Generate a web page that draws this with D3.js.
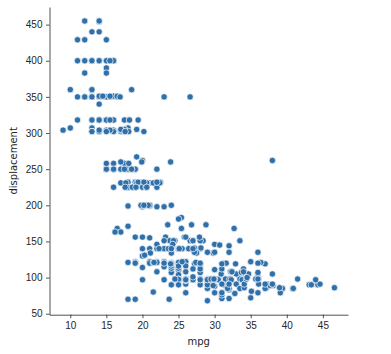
<!DOCTYPE html>
<html>
<head>
<meta charset="utf-8">
<script src="https://cdn.jsdelivr.net/npm/d3@7"></script>
<style>
  body { margin: 0; background: #fff; }
  svg { display: block; font-family: "DejaVu Sans", sans-serif; }
  .axis path, .axis line { stroke: #262626; stroke-width: 0.8; }
  .axis text { fill: #262626; font-size: 10px; }
  .label { fill: #262626; font-size: 10px; }
</style>
</head>
<body>
<script>
(function(){

//mpg of each car
var mpg = [18,15,18,16,17,15,14,14,14,15,15,14,15,14,24,22,18,21,27,26,25,24,25,26,21,10,10,11,9,27,
    28,25,25,19,16,17,19,18,14,14,14,14,12,13,13,18,22,19,18,23,28,30,30,31,35,27,26,24,25,23,
    20,21,13,14,15,14,17,11,13,12,13,19,15,13,13,14,18,22,21,26,22,28,23,28,27,13,14,13,14,15,
    12,13,13,14,13,12,13,18,16,18,18,23,26,11,12,13,12,18,20,21,22,18,19,21,26,15,16,29,24,20,
    19,15,24,20,11,20,21,19,15,31,26,32,25,16,16,18,16,13,14,14,14,29,26,26,31,32,28,24,26,24,
    26,31,19,18,15,15,16,15,16,14,17,16,15,18,21,20,13,29,23,20,23,24,25,24,18,29,19,23,23,22,
    25,33,28,25,25,26,27,17.5,16,15.5,14.5,22,22,24,22.5,29,24.5,29,33,20,18,18.5,17.5,29.5,32,28,
    26.5,20,13,19,19,16.5,16.5,13,13,13,31.5,30,36,25.5,33.5,17.5,17,15.5,15,17.5,20.5,19,18.5,16,
    15.5,15.5,16,29,24.5,26,25.5,30.5,33.5,30,30.5,22,21.5,21.5,43.1,36.1,32.8,39.4,36.1,19.9,19.4,20.2,
    19.2,20.5,20.2,25.1,20.5,19.4,20.6,20.8,18.6,18.1,19.2,17.7,18.1,17.5,30,27.5,27.2,30.9,21.1,23.2,
    23.8,23.9,20.3,17,21.6,16.2,31.5,29.5,21.5,19.8,22.3,20.2,20.6,17,17.6,16.5,18.2,16.9,15.5,19.2,
    18.5,31.9,34.1,35.7,27.4,25.4,23,27.2,23.9,34.2,34.5,31.8,37.3,28.4,28.8,26.8,33.5,41.5,38.1,32.1,
    37.2,28,26.4,24.3,19.1,34.3,29.8,31.3,37,32.2,46.6,27.9,40.8,44.3,43.4,36.4,30,44.6,40.9,33.8,
    29.8,32.7,23.7,35,23.6,32.4,27.2,26.6,25.8,23.5,30,39.1,39,35.1,32.3,37,37.7,34.1,34.7,34.4,
    29.9,33,34.5,33.7,32.4,32.9,31.6,28.1,30.7,25.4,24.2,22.4,26.6,20.2,17.6,28,27,34,31,29,
    27,24,23,36,37,31,38,36,36,36,34,38,32,38,25,38,26,22,32,36,27,27,44,32,28,31];

//engine displacement (cubic inches), same order
var displacement = [307,350,318,304,302,429,454,440,455,390,383,340,400,455,113,198,199,200,97,97,110,107,104,121,199,360,307,318,304,97,
    140,113,98,232,225,250,250,232,350,400,351,318,383,400,400,258,140,250,250,122,116,79,88,71,72,97,91,113,97.5,97,
    140,122,350,400,318,351,304,429,350,350,400,70,304,307,302,318,121,121,120,96,122,97,120,98,97,350,304,350,302,318,
    429,400,351,318,440,455,360,225,250,232,250,198,97,400,400,360,350,232,97,140,108,70,122,155,98,350,400,68,116,114,
    121,318,121,156,350,198,200,232,250,79,122,71,140,250,258,225,302,350,318,302,304,98,79,97,76,83,90,90,116,120,
    108,79,225,250,250,250,400,350,318,351,231,250,258,225,231,262,302,97,140,232,140,134,90,119,171,90,232,115,120,121,
    121,91,107,116,140,98,101,305,318,304,351,225,250,200,232,85,98,90,91,225,250,250,258,97,85,97,
    140,130,318,120,156,168,350,350,302,318,98,111,79,122,85,305,260,318,302,250,231,225,250,400,
    350,400,351,97,151,97,140,98,98,97,97,146,121,80,90,98,78,85,91,260,318,302,
    231,200,200,140,225,232,231,200,225,258,305,231,302,318,98,134,119,105,134,156,
    151,119,131,163,121,163,89,98,231,200,140,232,225,305,302,351,318,350,351,267,
    360,89,86,98,121,183,350,141,260,105,105,85,91,151,173,173,151,98,89,98,
    86,151,140,151,225,97,134,120,119,108,86,156,85,90,90,121,146,91,85,97,
    89,168,70,122,140,107,135,151,156,173,135,79,86,81,97,85,89,91,105,98,
    98,105,100,107,108,119,120,141,145,168,146,231,350,200,225,112,112,112,112,135,
    151,140,151,105,91,91,105,98,120,107,108,91,91,91,181,262,156,232,144,135,151,140,97,135,120,119];

var xTicks = [10, 15, 20, 25, 30, 35, 40, 45];
var yTicks = [50, 100, 150, 200, 250, 300, 350, 400, 450];

var width = 391,
    height = 354;
var margin = {top: 7, right: 43, bottom: 39.3, left: 49.5};

var svg = d3.select("body")
    .append("svg")
    .attr("width", width)
    .attr("height", height);

//matplotlib style 5% padding around the data
var xPad = (d3.max(mpg) - d3.min(mpg)) * 0.05,
    yPad = (d3.max(displacement) - d3.min(displacement)) * 0.05;

var x = d3.scaleLinear()
    .domain([d3.min(mpg) - xPad, d3.max(mpg) + xPad])
    .range([margin.left, width - margin.right]);

var y = d3.scaleLinear()
    .domain([d3.min(displacement) - yPad, d3.max(displacement) + yPad])
    .range([height - margin.bottom, margin.top]);

//axes, only left and bottom spines like seaborn
svg.append("g")
    .attr("class", "axis")
    .attr("transform", "translate(0," + (height - margin.bottom) + ")")
    .call(d3.axisBottom(x).tickValues(xTicks).tickSize(3.5).tickPadding(3.5).tickSizeOuter(0))
    .selectAll("text").attr("dy", "0.75em");

svg.append("g")
    .attr("class", "axis")
    .attr("transform", "translate(" + margin.left + ",0)")
    .call(d3.axisLeft(y).tickValues(yTicks).tickSize(3.5).tickPadding(3.5).tickSizeOuter(0));

//points
var pts = mpg.map(function(d, i){ return {mpg: d, disp: displacement[i]}; });

svg.append("g")
    .selectAll("circle")
    .data(pts)
    .enter()
    .append("circle")
    .attr("cx", function(d){ return x(d.mpg); })
    .attr("cy", function(d){ return y(d.disp); })
    .attr("r", 3.2)
    .attr("fill", "#2f70aa")
    .attr("stroke", "#fff")
    .attr("stroke-width", 0.7);

//axis titles
svg.append("text")
    .attr("class", "label")
    .attr("x", (margin.left + width - margin.right) / 2)
    .attr("y", 345)
    .attr("text-anchor", "middle")
    .text("mpg");

svg.append("text")
    .attr("class", "label")
    .attr("transform", "translate(17," + ((margin.top + height - margin.bottom) / 2) + ") rotate(-90)")
    .attr("text-anchor", "middle")
    .text("displacement");

})();
</script>
</body>
</html>
